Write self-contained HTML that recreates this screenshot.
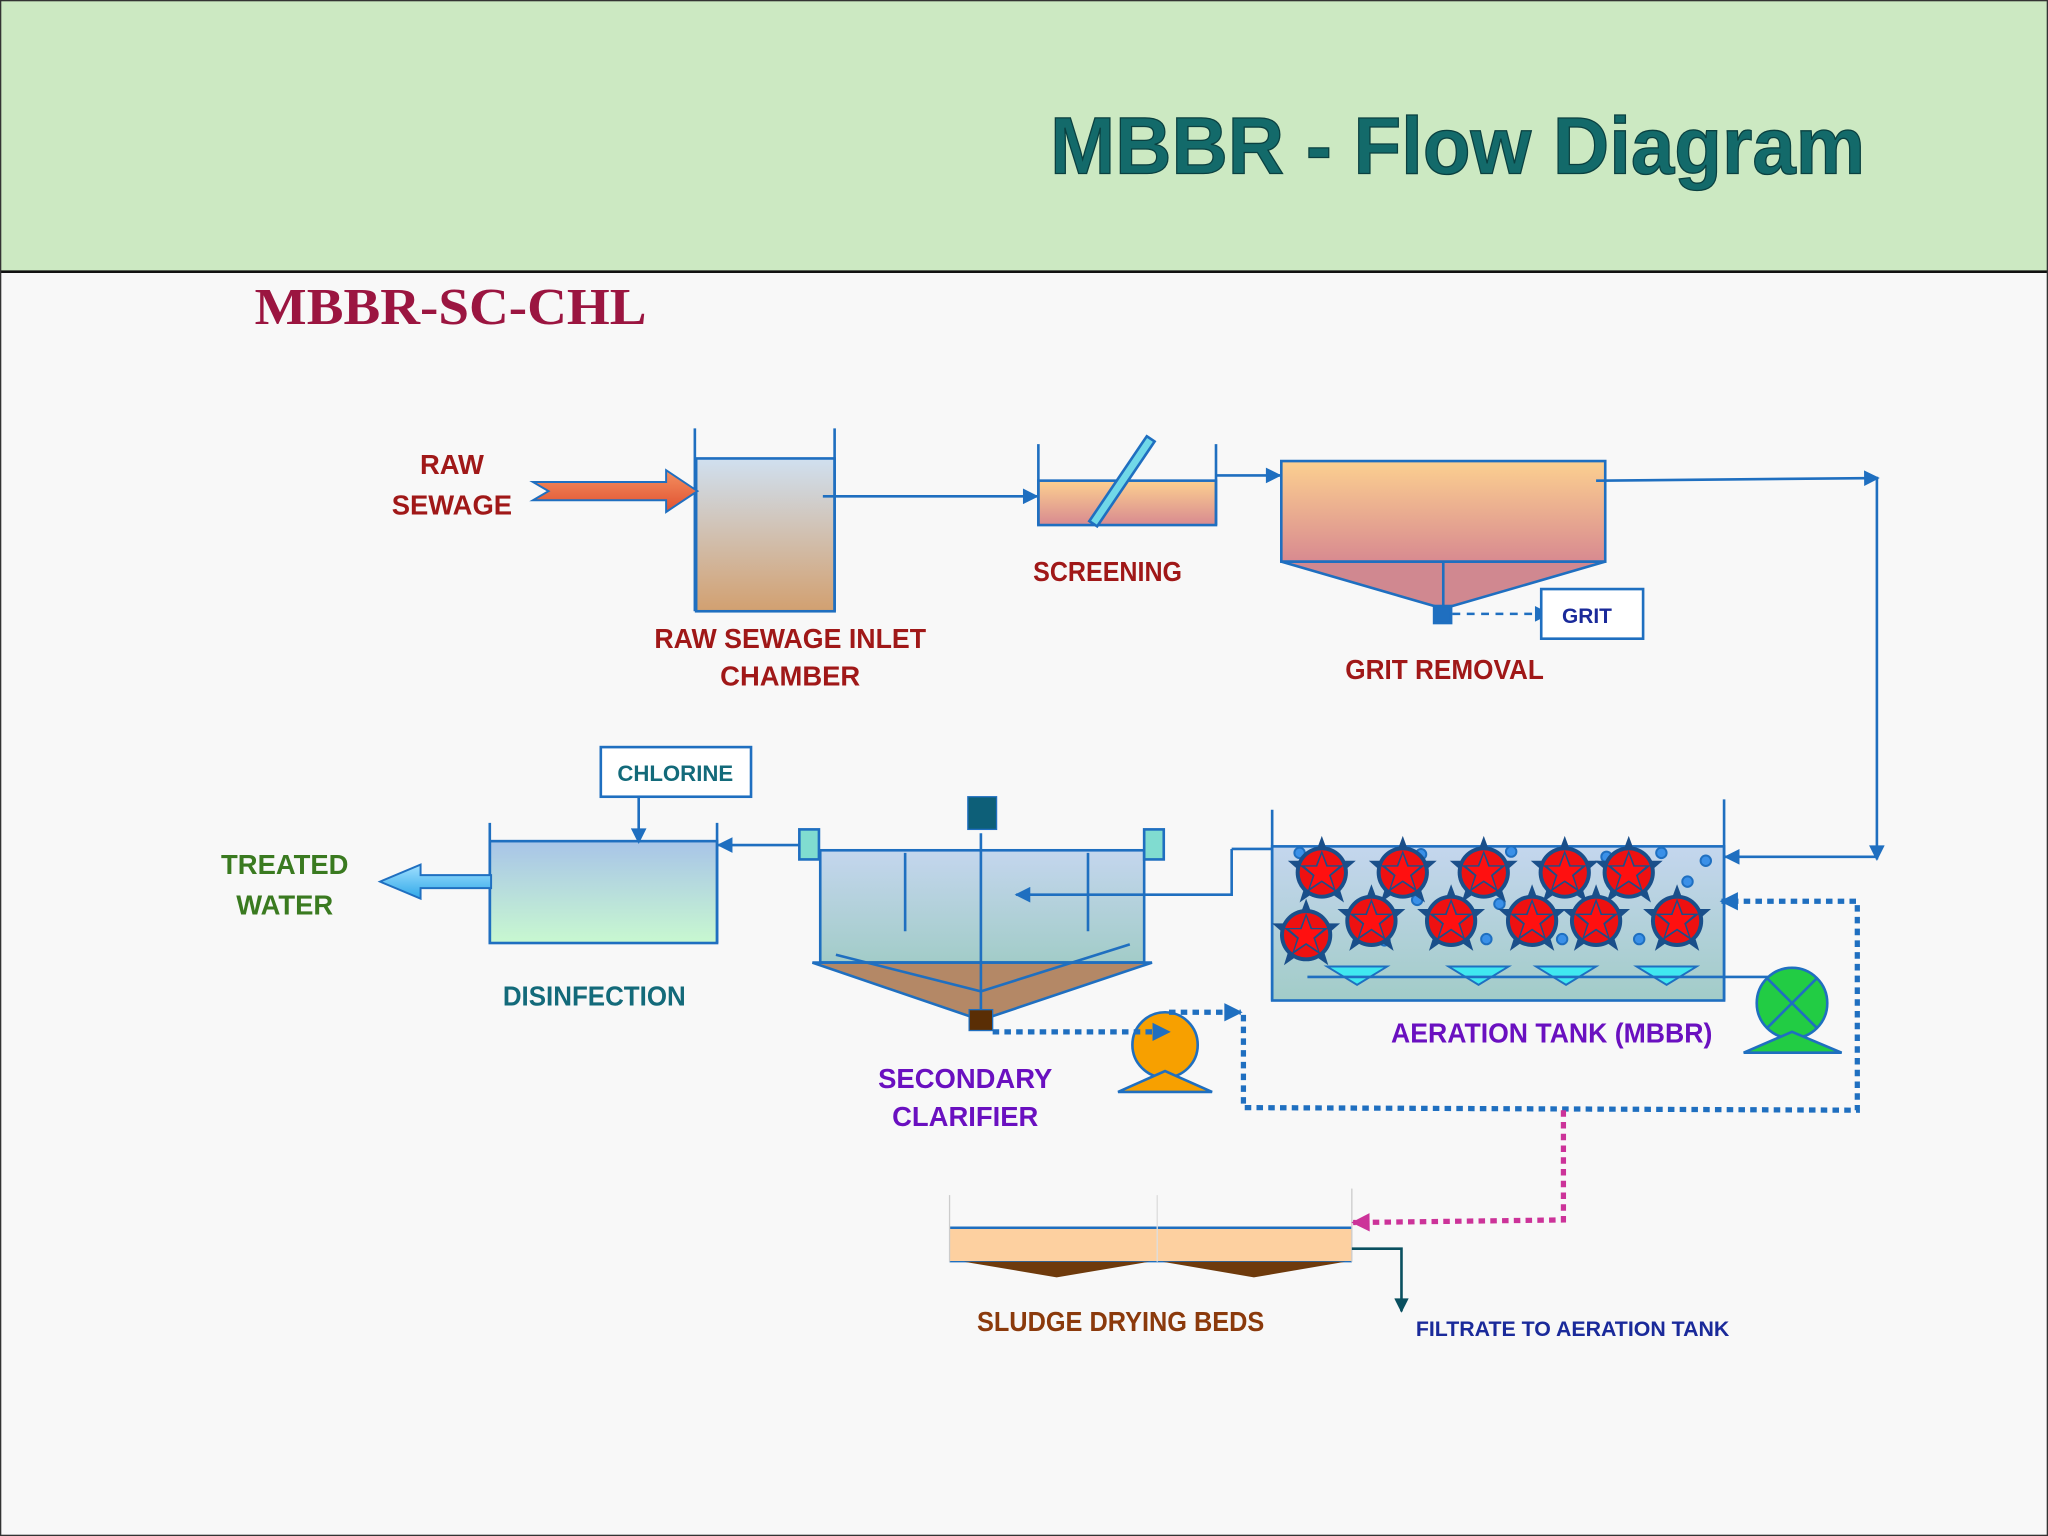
<!DOCTYPE html>
<html><head><meta charset="utf-8"><style>
html,body{margin:0;padding:0;background:#f8f8f8}
svg{display:block}
text{font-family:"Liberation Sans",sans-serif;font-weight:bold}
</style></head><body>
<svg width="2048" height="1536" viewBox="0 0 1568 1176" xmlns="http://www.w3.org/2000/svg">
<defs>
<linearGradient id="g1" x1="0" y1="0" x2="0" y2="1"><stop offset="0" stop-color="#d0e0f0"/><stop offset="1" stop-color="#d2a070"/></linearGradient>
<linearGradient id="g2" x1="0" y1="0" x2="0" y2="1"><stop offset="0" stop-color="#fcd090"/><stop offset="1" stop-color="#d88a90"/></linearGradient>
<linearGradient id="g3" x1="0" y1="0" x2="0" y2="1"><stop offset="0" stop-color="#a8c4e8"/><stop offset="1" stop-color="#c8f8d0"/></linearGradient>
<linearGradient id="g4" x1="0" y1="0" x2="0" y2="1"><stop offset="0" stop-color="#c4d6ee"/><stop offset="1" stop-color="#a2ccc8"/></linearGradient>
<linearGradient id="ar" x1="0" y1="0" x2="0" y2="1"><stop offset="0" stop-color="#f49060"/><stop offset="1" stop-color="#e05030"/></linearGradient>
<linearGradient id="ab" x1="0" y1="0" x2="0" y2="1"><stop offset="0" stop-color="#a0e0ff"/><stop offset="1" stop-color="#30a8e8"/></linearGradient>
<marker id="m" viewBox="0 0 10 10" refX="9" refY="5" markerUnits="userSpaceOnUse" markerWidth="13" markerHeight="12" orient="auto"><path d="M0,0L10,5L0,10z" fill="#1f6fc0"/></marker>
<marker id="mb" viewBox="0 0 10 10" refX="9" refY="5" markerUnits="userSpaceOnUse" markerWidth="15" markerHeight="14" orient="auto"><path d="M0,0L10,5L0,10z" fill="#1f6fc0"/></marker>
<marker id="mp" viewBox="0 0 10 10" refX="9" refY="5" markerUnits="userSpaceOnUse" markerWidth="15" markerHeight="14" orient="auto"><path d="M0,0L10,5L0,10z" fill="#cc3399"/></marker>
<marker id="md" viewBox="0 0 10 10" refX="9" refY="5" markerUnits="userSpaceOnUse" markerWidth="12" markerHeight="11" orient="auto"><path d="M0,0L10,5L0,10z" fill="#0a5060"/></marker>
<g id="media"><polygon points="0,-28 7,-9 26,-9 11,4 17,23 0,11 -17,23 -11,4 -26,-9 -7,-9" fill="#1a4f8a"/><circle r="20" fill="#1a4f8a"/><circle r="17" fill="#ee1111"/><polygon points="0,-17 4.5,-5.5 17,-5.5 7,2.5 11,15 0,7.5 -11,15 -7,2.5 -17,-5.5 -4.5,-5.5" fill="#1a4f8a"/><polygon points="0,-14 3.5,-4.5 13,-4.5 5.5,2 9,12 0,6 -9,12 -5.5,2 -13,-4.5 -3.5,-4.5" fill="#ff1010"/></g>
</defs>
<rect width="1568" height="1176" fill="#f8f8f8"/>
<rect x="0" y="0" width="1568" height="208" fill="#cce9c2" stroke="#222" stroke-width="1.5"/>
<line x1="0" y1="208" x2="1568" y2="208" stroke="#111" stroke-width="2"/>
<text x="804" y="133" font-size="62" fill="#136a6a" stroke="#0a4040" stroke-width="1" textLength="624" lengthAdjust="spacingAndGlyphs">MBBR - Flow Diagram</text>
<text x="195" y="248" font-size="40" fill="#9b1540" style="font-family:'Liberation Serif',serif" textLength="300" lengthAdjust="spacingAndGlyphs">MBBR-SC-CHL</text>

<g fill="none" stroke="#1f6fc0" stroke-width="2">
<rect x="533" y="351" width="106" height="117" fill="url(#g1)"/>
<line x1="532" y1="328" x2="532" y2="468"/><line x1="639" y1="328" x2="639" y2="468"/>
<line x1="630" y1="380" x2="794" y2="380" marker-end="url(#m)"/>
<rect x="795" y="368" width="136" height="34" fill="url(#g2)"/>
<line x1="795" y1="340" x2="795" y2="402"/><line x1="931" y1="340" x2="931" y2="402"/>
<polygon points="878,334 884,338 840,403 834,399" fill="#70d8e8"/>
<line x1="931" y1="364" x2="980" y2="364" marker-end="url(#m)"/>
<rect x="981" y="353" width="248" height="77" fill="url(#g2)"/>
<polygon points="981,430 1229,430 1105,466" fill="#d08890"/>
<line x1="1105" y1="430" x2="1105" y2="466"/>
<rect x="1098" y="464" width="13" height="13" fill="#1f6fc0"/>
<line x1="1112" y1="470" x2="1186" y2="470" stroke-dasharray="6,5" marker-end="url(#m)"/>
<rect x="1180" y="451" width="78" height="38" fill="#fff"/>
<line x1="1222" y1="368" x2="1438" y2="366" marker-end="url(#m)"/>
<line x1="1437" y1="366" x2="1437" y2="658" marker-end="url(#m)"/>
<rect x="974" y="648" width="346" height="118" fill="url(#g4)"/>
<line x1="974" y1="620" x2="974" y2="766"/><line x1="1320" y1="612" x2="1320" y2="766"/>
<line x1="1437" y1="656" x2="1321" y2="656" marker-end="url(#m)"/>
</g>
<g fill="#3a90e8" stroke="#1f6fc0" stroke-width="1.5">
<circle cx="995" cy="653" r="4"/><circle cx="1088" cy="654" r="4"/><circle cx="1157" cy="652" r="4"/><circle cx="1202" cy="654" r="4"/><circle cx="1230" cy="656" r="4"/><circle cx="1272" cy="653" r="4"/><circle cx="1306" cy="659" r="4"/><circle cx="1292" cy="675" r="4"/><circle cx="1085" cy="689" r="4"/><circle cx="1148" cy="692" r="4"/><circle cx="1208" cy="700" r="4"/><circle cx="1060" cy="720" r="4"/><circle cx="1138" cy="719" r="4"/><circle cx="1196" cy="719" r="4"/><circle cx="1255" cy="719" r="4"/><circle cx="1005" cy="724" r="4"/>
</g>
<use href="#media" x="1012" y="668"/><use href="#media" x="1074" y="668"/><use href="#media" x="1136" y="668"/><use href="#media" x="1198" y="668"/><use href="#media" x="1247" y="668"/>
<use href="#media" x="1000" y="716"/><use href="#media" x="1050" y="705"/><use href="#media" x="1111" y="705"/><use href="#media" x="1173" y="705"/><use href="#media" x="1222" y="705"/><use href="#media" x="1284" y="705"/>
<g stroke="#1f6fc0" stroke-width="1.5" fill="#40e8f0">
<polygon points="1016,740 1062,740 1039,754"/><polygon points="1109,740 1155,740 1132,754"/><polygon points="1176,740 1222,740 1199,754"/><polygon points="1253,740 1299,740 1276,754"/>
</g>
<line x1="1001" y1="748" x2="1375" y2="748" stroke="#1f6fc0" stroke-width="2"/>
<g stroke="#1f6fc0" stroke-width="2" fill="#22cc44">
<circle cx="1372" cy="768" r="27"/><line x1="1353" y1="749" x2="1391" y2="787"/><line x1="1391" y1="749" x2="1353" y2="787"/>
<polygon points="1372,790 1410,806 1335,806"/>
</g>
<g fill="none" stroke="#1f6fc0" stroke-width="2">
<rect x="628" y="651" width="248" height="86" fill="url(#g4)"/>
<polygon points="622,737 882,737 751,781" fill="#b48866"/>
<line x1="751" y1="638" x2="751" y2="781"/>
<line x1="693" y1="653" x2="693" y2="713"/><line x1="833" y1="653" x2="833" y2="713"/>
<line x1="640" y1="731" x2="751" y2="759"/><line x1="865" y1="723" x2="751" y2="759"/>
<line x1="628" y1="737" x2="876" y2="737"/>
<line x1="943" y1="650" x2="974" y2="650"/><line x1="943" y1="650" x2="943" y2="686"/>
<line x1="943" y1="685" x2="778" y2="685" marker-end="url(#m)"/>
<rect x="612" y="635" width="15" height="23" fill="#80dcd0"/><rect x="876" y="635" width="15" height="23" fill="#80dcd0"/>
<line x1="612" y1="647" x2="550" y2="647" marker-end="url(#m)"/>
</g>
<rect x="741" y="610" width="22" height="25" fill="#0d5f78" stroke="#1f6fc0"/>
<rect x="742" y="773" width="18" height="16" fill="#5a2e05" stroke="#1f6fc0"/>
<g stroke="#1f6fc0" stroke-width="2" fill="#f7a000">
<circle cx="892" cy="800" r="25"/><polygon points="892,820 928,836 856,836"/>
</g>
<g fill="none" stroke="#1f6fc0" stroke-width="4" stroke-dasharray="5,4">
<line x1="760" y1="790" x2="895" y2="790" marker-end="url(#mb)"/>
<polyline points="895,775 950,775" marker-end="url(#mb)"/>
<polyline points="952,777 952,848 1422,850 1422,690 1318,690" marker-end="url(#mb)"/>
</g>
<g fill="none" stroke="#1f6fc0" stroke-width="2">
<rect x="375" y="644" width="174" height="78" fill="url(#g3)"/>
<line x1="375" y1="630" x2="375" y2="722"/><line x1="549" y1="630" x2="549" y2="722"/>
<rect x="460" y="572" width="115" height="38" fill="#fff"/>
<line x1="489" y1="610" x2="489" y2="645" marker-end="url(#m)"/>
</g>
<polygon points="376,670 322,670 322,662 291,675 322,688 322,680 376,680" fill="url(#ab)" stroke="#1f6fc0" stroke-width="1.5"/>
<polygon points="408,369 510,369 510,360 534,376 510,392 510,383 408,383 420,376" fill="url(#ar)" stroke="#1f6fc0" stroke-width="1.5"/>
<rect x="727" y="940" width="308" height="26" fill="#fdd0a0"/>
<line x1="727" y1="940" x2="1035" y2="940" stroke="#1f6fc0" stroke-width="2"/>
<line x1="727" y1="966" x2="1035" y2="966" stroke="#1f6fc0" stroke-width="1"/>
<line x1="727" y1="915" x2="727" y2="966" stroke="#ccc" stroke-width="1"/><line x1="886" y1="915" x2="886" y2="966" stroke="#ddd"/><line x1="1035" y1="910" x2="1035" y2="966" stroke="#ccc"/>
<polygon points="738,966 880,966 809,978" fill="#6e3a0c"/><polygon points="890,966 1030,966 960,978" fill="#6e3a0c"/>
<g fill="none" stroke="#cc3399" stroke-width="4" stroke-dasharray="5,4">
<polyline points="1197,850 1197,934 1036,936" marker-end="url(#mp)"/>
</g>
<polyline points="1035,956 1073,956 1073,1004" fill="none" stroke="#0a5060" stroke-width="2" marker-end="url(#md)"/>
<g font-size="21">
<text x="346" y="363" fill="#a01818" text-anchor="middle">RAW</text>
<text x="346" y="394" fill="#a01818" text-anchor="middle">SEWAGE</text>
<text x="605" y="496" fill="#a01818" text-anchor="middle" textLength="208" lengthAdjust="spacingAndGlyphs">RAW SEWAGE  INLET</text>
<text x="605" y="525" fill="#a01818" text-anchor="middle">CHAMBER</text>
<text x="848" y="445" fill="#a01818" text-anchor="middle" textLength="114" lengthAdjust="spacingAndGlyphs">SCREENING</text>
<text x="1106" y="520" fill="#a01818" text-anchor="middle" textLength="152" lengthAdjust="spacingAndGlyphs">GRIT REMOVAL</text>
<text x="1188" y="798" fill="#6a10c0" text-anchor="middle" textLength="246" lengthAdjust="spacingAndGlyphs">AERATION TANK (MBBR)</text>
<text x="739" y="833" fill="#6a10c0" text-anchor="middle">SECONDARY</text>
<text x="739" y="862" fill="#6a10c0" text-anchor="middle">CLARIFIER</text>
<text x="455" y="770" fill="#136a7a" text-anchor="middle" textLength="140" lengthAdjust="spacingAndGlyphs">DISINFECTION</text>
<text x="218" y="669" fill="#3a7a20" text-anchor="middle">TREATED</text>
<text x="218" y="700" fill="#3a7a20" text-anchor="middle">WATER</text>
<text x="858" y="1019" fill="#8b3a0c" text-anchor="middle" textLength="220" lengthAdjust="spacingAndGlyphs">SLUDGE DRYING BEDS</text>
</g>
<text x="1215" y="477" font-size="16" fill="#1a2a9a" text-anchor="middle">GRIT</text>
<text x="517" y="598" font-size="17" fill="#136a7a" text-anchor="middle">CHLORINE</text>
<text x="1204" y="1023" font-size="16" fill="#1a2a9a" text-anchor="middle" textLength="240" lengthAdjust="spacingAndGlyphs">FILTRATE TO AERATION TANK</text>
<rect x="0.5" y="0.5" width="1567" height="1175" fill="none" stroke="#333" stroke-width="1"/>
</svg>
</body></html>
